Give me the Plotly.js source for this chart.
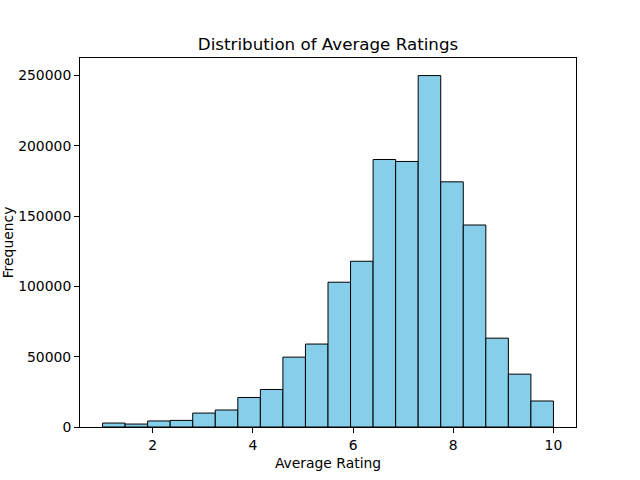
<!DOCTYPE html>
<html>
<head>
<meta charset="utf-8">
<script src="https://cdn.plot.ly/plotly-3.0.1.min.js"></script>
<style>html,body{margin:0;padding:0;background:#fff;}</style>
</head>
<body>
<div id="chart" style="width:640px;height:480px;"></div>
<script>
// Histogram bins (left edges) and width
const binStarts = [1.00, 1.45, 1.90, 2.35, 2.80, 3.25, 3.70, 4.15, 4.60, 5.05,
                   5.50, 5.95, 6.40, 6.85, 7.30, 7.75, 8.20, 8.65, 9.10, 9.55];
const binWidth = 0.45;
const frequencies = [2800, 2100, 4300, 4700, 9900, 12100, 21000, 26700, 49700, 59000,
                     103000, 117900, 190300, 188900, 250000, 174400, 143700, 63200, 37600, 18500];
const xTicks = [2, 4, 6, 8, 10];
const yTicks = [0, 50000, 100000, 150000, 200000, 250000];

const centers = binStarts.map(s => s + binWidth / 2);
const ymax = Math.max(...frequencies) * 1.05;

const trace = {
  type: 'bar',
  x: centers,
  y: frequencies,
  width: binWidth,
  marker: {color: '#87CEEB', line: {color: '#000000', width: 1}},
  hoverinfo: 'x+y'
};

const font = {family: 'DejaVu Sans, sans-serif', size: 13.9, color: '#000'};

const layout = {
  width: 640, height: 480,
  margin: {l: 80, r: 64, t: 58, b: 53, pad: 0},
  paper_bgcolor: '#fff', plot_bgcolor: '#fff',
  font: font,
  showlegend: false,
  bargap: 0,
  title: {text: 'Distribution of Average Ratings', font: {family: 'DejaVu Sans, sans-serif', size: 16.7, color: '#000'},
          x: 0.5, xref: 'paper', y: 1 - 44/480, yref: 'container', yanchor: 'middle'},
  xaxis: {
    range: [binStarts[0] - binWidth, binStarts[binStarts.length - 1] + 2 * binWidth],
    tickvals: xTicks, ticktext: xTicks.map(String),
    ticks: 'outside', ticklen: 5, tickwidth: 1, tickcolor: '#000',
    showline: true, linecolor: '#000', linewidth: 1, mirror: true,
    showgrid: false, zeroline: false,
    tickfont: font,
    title: {text: 'Average Rating', font: font, standoff: 6}
  },
  yaxis: {
    range: [0, ymax],
    tickvals: yTicks, ticktext: yTicks.map(String),
    ticks: 'outside', ticklen: 5, tickwidth: 1, tickcolor: '#000',
    showline: true, linecolor: '#000', linewidth: 1, mirror: true,
    showgrid: false, zeroline: false,
    tickfont: font,
    title: {text: 'Frequency', font: font, standoff: 4}
  }
};

Plotly.newPlot('chart', [trace], layout, {displayModeBar: false, staticPlot: true});
</script>
</body>
</html>
